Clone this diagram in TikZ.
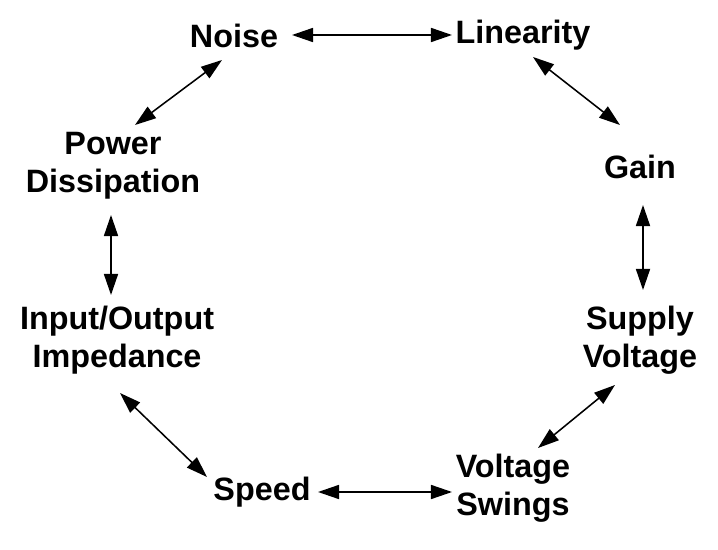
\documentclass[tikz,border=0pt]{standalone}
\usepackage{fontspec}
\setmainfont{Liberation Sans}
\usetikzlibrary{arrows.meta, positioning}
\tikzset{param/.style={align=center, font=\fontsize{23}{27}\selectfont\bfseries, inner sep=0pt},
  arrow/.style={line width=1.1pt, {Triangle[length=15pt,width=10pt]}-{Triangle[length=15pt,width=10pt]}}}
\begin{document}
\begin{tikzpicture}[x=0.025cm, y=-0.025cm]
\useasboundingbox (0,0) rectangle (718,550);

\node (noise) [param] at (234,36) {Noise};
\node (lin) [param] at (523,35) {Linearity};
\node (gain) [param] at (640,167) {Gain};
\node (supply) [param] at (640,340) {Supply\\Voltage};
\node (swings) [param] at (513,488) {Voltage\\Swings};
\node (speed) [param] at (262,492) {Speed};
\node (imped) [param] at (117,340) {Input/Output\\Impedance};
\node (power) [param] at (113,166) {Power\\Dissipation};

% Arrows
\draw [arrow] ([shift={(58,-1)}]noise.center) -- ([shift={(-71,0)}]lin.center);
\draw [arrow] ([shift={(10,22)}]lin.center) -- ([shift={(-20,-42)}]gain.center);
\draw [arrow] ([shift={(3,38)}]gain.center) -- ([shift={(3,-50)}]supply.center);
\draw [arrow] ([shift={(-25,45)}]supply.center) -- ([shift={(25,-40)}]swings.center);
\draw [arrow] ([shift={(-61,4)}]swings.center) -- ([shift={(56,0)}]speed.center);
\draw [arrow] ([shift={(-55,-15)}]speed.center) -- ([shift={(3,53)}]imped.center);
\draw [arrow] ([shift={(-6,-45)}]imped.center) -- ([shift={(-2,49)}]power.center);
\draw [arrow] ([shift={(22,-41)}]power.center) -- ([shift={(-12,24)}]noise.center);

\end{tikzpicture}
\end{document}
